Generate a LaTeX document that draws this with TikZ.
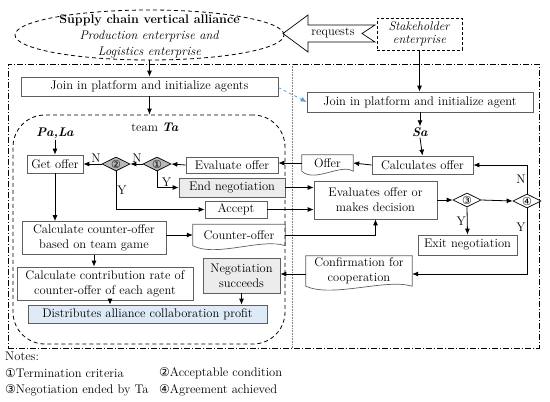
\documentclass[tikz,border=0pt]{standalone}
\usepackage{fontspec}
\newfontfamily\symfont{DejaVu Sans}
\usetikzlibrary{arrows.meta,shapes.geometric,calc}

\definecolor{framegray}{RGB}{95,95,95}
\definecolor{fillgray}{RGB}{236,236,236}
\definecolor{diagray}{RGB}{185,185,185}
\definecolor{profitblue}{RGB}{222,235,247}
\definecolor{linkblue}{RGB}{91,155,213}

% circled numbers
\newcommand{\cnum}[1]{{\symfont\fontsize{12}{12}\selectfont #1}}

% outline of a document shape round a node
\newcommand{\docline}[1]{%
  \draw[framegray, line width=0.7pt] (#1.south west) -- (#1.north west) -- (#1.north east) -- (#1.south east)
    .. controls ($(#1.south)!0.5!(#1.south east)+(0,8pt)$) and ($(#1.south)!0.5!(#1.south west)+(0,-12pt)$) .. (#1.south west);}

\tikzset{
  box/.style={draw=framegray, line width=0.7pt, inner sep=1pt, align=center},
  graybox/.style={box, fill=fillgray},
  docbox/.style={inner sep=1pt, align=center},
  dia/.style={diamond, draw=black, line width=0.7pt, inner sep=0pt, aspect=2,
    minimum width=28pt, minimum height=14pt, font=\symfont\fontsize{11}{11}\selectfont},
  flow/.style={-{Latex[length=6pt,width=5pt]}, line width=0.8pt},
  lbl/.style={inner sep=1pt},
}

\begin{document}
\begin{tikzpicture}[x=1pt, y=-1pt, font=\fontsize{12.5}{15}\selectfont]
  \useasboundingbox (0,0) rectangle (550,402);

  % Rahmen
  \node (plat) [draw, line width=0.8pt, dash pattern=on 6pt off 2pt on 1pt off 2pt,
    minimum width=531pt, minimum height=284pt] at (273.5,206) {};
  \draw[gray, densely dotted, line width=0.6pt] (292,64) -- (292,348);
  \node (team) [draw, line width=0.8pt, dash pattern=on 4pt off 3pt, rounded corners=32pt,
    minimum width=272pt, minimum height=229pt] at (149,229.5) {};

  % Allianz und Anfrage
  \node (alliance) [ellipse, draw, line width=0.8pt, dash pattern=on 4pt off 3pt, inner sep=0pt,
    minimum width=269pt, minimum height=50pt] at (149.5,35) {};
  \node (allianceTxt) [align=center, font=\fontsize{12.5}{16}\selectfont] at ([yshift=-1pt]alliance.center)
    {\textbf{Supply chain vertical alliance}\\ \textit{Production enterprise and}\\ \textit{Logistics enterprise}};
  \node (stake) [draw, line width=0.8pt, dash pattern=on 3pt off 2pt, align=center,
    minimum width=85pt, minimum height=32pt, inner sep=1pt] at (419.5,34)
    {\textit{Stakeholder}\\[-2pt] \textit{enterprise}};
  \draw[line width=0.7pt] (283,33.5) -- (308,15) -- (308,25) -- (375,25) -- (362,33.5)
    -- (375,42) -- (308,42) -- (308,52) -- cycle;
  \node (req) at (333,33) {requests};

  % Beitritt
  \node (leftjoin) [box, minimum width=257pt, minimum height=19pt] at (149.5,86.5)
    {Join in platform and initialize agents};
  \node (rightjoin) [box, minimum width=226pt, minimum height=20pt] at (420,102)
    {Join in platform and initialize agent};
  \node (sa) [lbl] at (420,132) {\textbf{\textit{Sa}}};

  % Stakeholder-Seite
  \node (calcoffer) [box, minimum width=101pt, minimum height=18pt] at (422.5,165) {Calculates offer};
  \node (offer) [docbox, minimum width=51pt, minimum height=16pt] at (327.5,163) {Offer};
  \node (evaldec) [box, minimum width=123pt, minimum height=38pt] at (375.5,200)
    {Evaluates offer or\\ makes decision};
  \node (d3) [dia] at (467,200) {③};
  \node (d4) [dia] at (527,201) {④};
  \node (exitneg) [box, minimum width=99pt, minimum height=20pt] at (467.5,245) {Exit negotiation};
  \node (confirm) [docbox, minimum width=106pt, minimum height=30pt] at (359,271)
    {Confirmation for\\ cooperation};

  % Team Ta
  \node (teamlbl) [lbl] at (155,127) {team \textbf{\textit{Ta}}};
  \node (pala) [lbl] at (55,133) {\textbf{\textit{Pa,La}}};
  \node (getoffer) [box, minimum width=56pt, minimum height=18pt] at (55,164) {Get offer};
  \node (d2) [dia, fill=diagray] at (116,164) {②};
  \node (d1) [dia, fill=diagray] at (157,164) {①};
  \node (evaloffer) [box, minimum width=92pt, minimum height=16pt] at (232,165) {Evaluate offer};
  \node (endneg) [graybox, minimum width=106pt, minimum height=19pt] at (232,187.5) {End negotiation};
  \node (accept) [box, minimum width=62pt, minimum height=17pt] at (236,209.5) {Accept};
  \node (calccounter) [box, minimum width=144pt, minimum height=33pt] at (94,238)
    {Calculate counter-offer\\ based on team game};
  \node (counter) [docbox, minimum width=92pt, minimum height=21pt] at (239,235) {Counter-offer};
  \node (contrib) [box, minimum width=176pt, minimum height=33pt] at (105,283.5)
    {Calculate contribution rate of\\ counter-offer of each agent};
  \node (negsucc) [graybox, minimum width=77pt, minimum height=35pt] at (241.5,275.5)
    {Negotiation\\ succeeds};
  \node (profit) [box, fill=profitblue, minimum width=239pt, minimum height=18pt] at (147.5,314)
    {Distributes alliance collaboration profit};

  % Dokumentformen
  \docline{offer}
  \docline{counter}
  \docline{confirm}

  % Pfeile
  \draw[flow] (alliance.south) -- (alliance.south |- leftjoin.north);
  \draw[flow] (leftjoin.south) -- (leftjoin.south |- team.north);
  \draw[flow] (stake.south) -- (stake.south |- rightjoin.north);
  \draw[-{Latex[length=6pt,width=5pt]}, linkblue, dashed, line width=0.8pt] ([yshift=-1pt]leftjoin.east) -- (rightjoin.west);
  \draw[flow] (rightjoin.south) -- (sa.north);
  \draw[flow] (sa.south) -- (calcoffer.north);
  \draw[flow] (calcoffer.west) -- (offer.east);
  \draw[flow] (offer.west) -- (offer.west -| evaloffer.east);
  \draw[flow] (evaloffer.west) -- (d1.east);
  \draw[flow] (d1.west) -- (d2.east);
  \draw[flow] (d2.west) -- (getoffer.east);
  \node (n1) [lbl, above left] at (d1.west) {N};
  \node (n2) [lbl, above left] at (d2.west) {N};
  \draw[flow] (d1.south) |- node (y1) [lbl, pos=0.72, above] {Y} (endneg.west);
  \draw[flow] (d2.south) |- node (y2) [lbl, pos=0.25, right] {Y} (accept.west);
  \draw[flow] (endneg.east) -- (evaldec.west |- endneg.east);
  \draw[flow] (accept.east) -- (evaldec.west |- accept.east);
  \draw[flow] (pala.south) -- (getoffer.north);
  \draw[flow] (getoffer.south) -- (getoffer.south |- calccounter.north);
  \draw[flow] (calccounter.east |- counter.west) -- (counter.west);
  \draw[flow] (counter.east) -| (evaldec.south);
  \draw[flow] (evaldec.east) -- (d3.west);
  \draw[flow] (d3.east) -- (d4.west);
  \draw[flow] (d4.north) |- node (n4) [lbl, pos=0.25, left] {N} (calcoffer.east);
  \draw[flow] (d3.south) -- node (y3) [lbl, left] {Y} (exitneg.north);
  \draw[flow] (d4.south) |- node (y4) [lbl, pos=0.14, left] {Y} ([yshift=-3pt]confirm.east);
  \draw[flow] ([yshift=-3pt]confirm.west) -- ([yshift=-3pt]confirm.west -| negsucc.east);
  \draw[flow] (calccounter.south) -- (calccounter.south |- contrib.north);
  \draw[flow] ([xshift=5pt]contrib.south) -- ([xshift=5pt]contrib.south |- profit.north);
  \draw[flow] (negsucc.south) -- (negsucc.south |- profit.north);

  % Anmerkungen
  \node (notes) [anchor=west, lbl] at (4,356) {Notes:};
  \node (note1) [anchor=west, lbl] at (4,373) {\cnum{①}Termination criteria};
  \node (note2) [anchor=west, lbl] at (158,373) {\cnum{②}Acceptable condition};
  \node (note3) [anchor=west, lbl] at (4,390) {\cnum{③}Negotiation ended by Ta};
  \node (note4) [anchor=west, lbl] at (158,390) {\cnum{④}Agreement achieved};
\end{tikzpicture}
\end{document}
